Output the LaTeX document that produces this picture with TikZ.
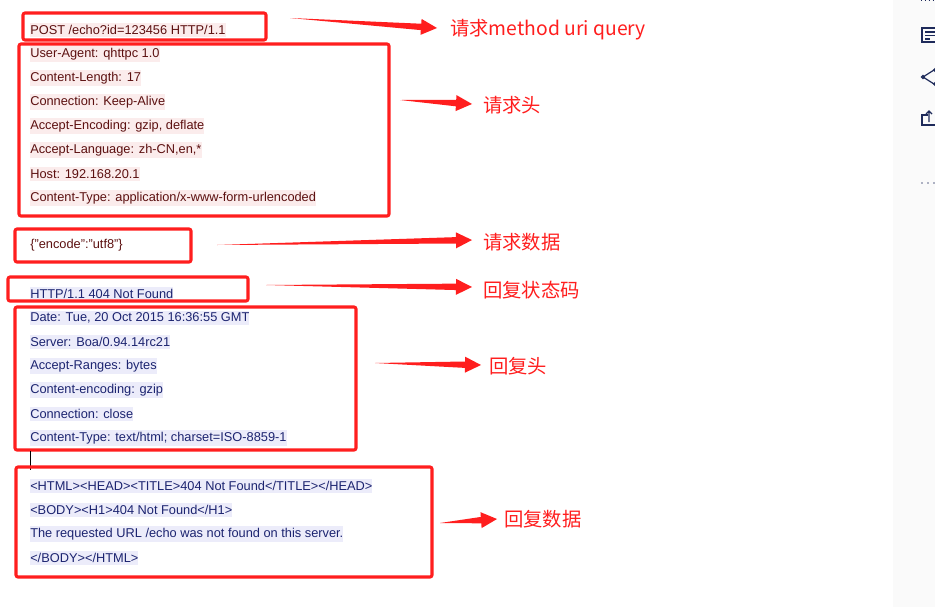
\documentclass[tikz,border=0pt]{standalone}
\usepackage{fontspec}
\setmainfont{Liberation Sans}
\newfontfamily\cjk{Noto Sans CJK SC}
\usetikzlibrary{calc}
\definecolor{boxred}{HTML}{FF1E1E}
\definecolor{reqtxt}{HTML}{5C1010}
\definecolor{reqbg}{HTML}{FBECEC}
\definecolor{restxt}{HTML}{1C2470}
\definecolor{resbg}{HTML}{ECECFA}
\definecolor{side}{HTML}{FAFAFA}
\definecolor{icon}{HTML}{1E2A5A}
\tikzset{
  frame/.style={draw=boxred,line width=2.3pt,rounded corners=1.5pt},
  req/.style={anchor=west,fill=reqbg,text=reqtxt,inner xsep=0pt,inner ysep=1.5pt,font=\fontsize{9.6}{11}\selectfont},
  res/.style={anchor=west,fill=resbg,text=restxt,inner xsep=0pt,inner ysep=1.5pt,font=\fontsize{9.6}{11}\selectfont},
  lab/.style={anchor=west,text=boxred,font=\cjk\fontsize{14.5}{16}\selectfont,inner sep=0pt},
  ico/.style={draw=icon,line width=0.9pt}
}
\newcommand\tarr[2]{%
  \path (#2) coordinate (tipE) ($(#2)!12pt!(#1)$) coordinate (hb);
  \fill[boxred] (#1) -- ($(hb)!2.4pt!90:(tipE)$) -- ($(hb)!6pt!90:(tipE)$) -- (tipE)
     -- ($(hb)!6pt!-90:(tipE)$) -- ($(hb)!2.4pt!-90:(tipE)$) -- cycle;}
\begin{document}
\begin{tikzpicture}[x=0.75pt,y=-0.75pt]
\useasboundingbox (0,0) rectangle (935,607);
\fill[white] (0,0) rectangle (935,607);
\fill[side] (893,0) rectangle (935,607);
% sidebar icons
\draw[ico,dotted] (921,0.5) -- (935,0.5);
\draw[ico] (935,28) -- (922,28) -- (922,42) -- (935,42);
\draw[ico] (925,32) -- (935,32) (925,35.5) -- (935,35.5) (925,39) -- (930,39);
\draw[ico] (934,70) -- (923,77) -- (934,84);
\draw[ico] (923,77) circle (1.5);
\draw[ico] (935,70) circle (1.3) (935,84) circle (1.3);
\draw[ico] (928,115) -- (922,115) -- (922,125) -- (935,125);
\draw[ico] (929,122) -- (929,111) (926,114) -- (929,111) -- (932,114);
\foreach \x in {922,928,934} \fill[icon!70] (\x,183) circle (0.9);
% request line
\node[req] (r0) at (30,30) {POST /echo?id=123456 HTTP/1.1};
\draw[frame] (23,13) rectangle (266,40);
% request headers
\node[req] (h1) at (30,54) {User-Agent: qhttpc 1.0};
\node[req] (h2) at (30,78) {Content-Length: 17};
\node[req] (h3) at (30,102) {Connection: Keep-Alive};
\node[req] (h4) at (30,126) {Accept-Encoding: gzip, deflate};
\node[req] (h5) at (30,150) {Accept-Language: zh-CN,en,*};
\node[req] (h6) at (30,174) {Host: 192.168.20.1};
\node[req] (h7) at (30,198) {Content-Type: application/x-www-form-urlencoded};
\draw[frame] (19,44) rectangle (389,216);
% request body
\node[anchor=west,text=reqtxt,inner sep=0pt,font=\fontsize{9.6}{11}\selectfont] (d1) at (30,245) {\{"encode":"utf8"\}};
\draw[frame] (15,229) rectangle (191,262);
% status line
\node[res] (s0) at (30,294) {HTTP/1.1 404 Not Found};
\draw[frame] (8,277) rectangle (248,301);
% response headers
\node[res] (g1) at (30,318) {Date: Tue, 20 Oct 2015 16:36:55 GMT};
\node[res] (g2) at (30,342) {Server: Boa/0.94.14rc21};
\node[res] (g3) at (30,366) {Accept-Ranges: bytes};
\node[res] (g4) at (30,390) {Content-encoding: gzip};
\node[res] (g5) at (30,414) {Connection: close};
\node[res] (g6) at (30,438) {Content-Type: text/html; charset=ISO-8859-1};
\draw[frame] (15,307) rectangle (356,450);
\draw[black,line width=0.6pt] (30,451) -- (30,470);
% response body
\node[res] (b1) at (30,486) {<HTML><HEAD><TITLE>404 Not Found</TITLE></HEAD>};
\node[res] (b2) at (30,510) {<BODY><H1>404 Not Found</H1>};
\node[res] (b3) at (30,534) {The requested URL /echo was not found on this server.};
\node[res] (b4) at (30,558) {</BODY></HTML>};
\draw[frame] (16,467) rectangle (432,577);
% labels
\node[lab] (l1) at (450,30) {请求method uri query};
\node[lab] (l2) at (483,105) {请求头};
\node[lab] (l3) at (483,242) {请求数据};
\node[lab] (l4) at (483,290) {回复状态码};
\node[lab] (l5) at (489,366) {回复头};
\node[lab] (l6) at (504,519) {回复数据};
% arrows
\coordinate (a1) at (290,18); \coordinate (e1) at (437,28);
\coordinate (a2) at (400,100); \coordinate (e2) at (472,104);
\coordinate (a3) at (217,245); \coordinate (e3) at (472,240);
\coordinate (a4) at (266,285); \coordinate (e4) at (472,287);
\coordinate (a5) at (375,363); \coordinate (e5) at (481,365);
\coordinate (a6) at (440,523); \coordinate (e6) at (497,519);
\tarr{a1}{e1}\tarr{a2}{e2}\tarr{a3}{e3}\tarr{a4}{e4}\tarr{a5}{e5}\tarr{a6}{e6}
\end{tikzpicture}
\end{document}
